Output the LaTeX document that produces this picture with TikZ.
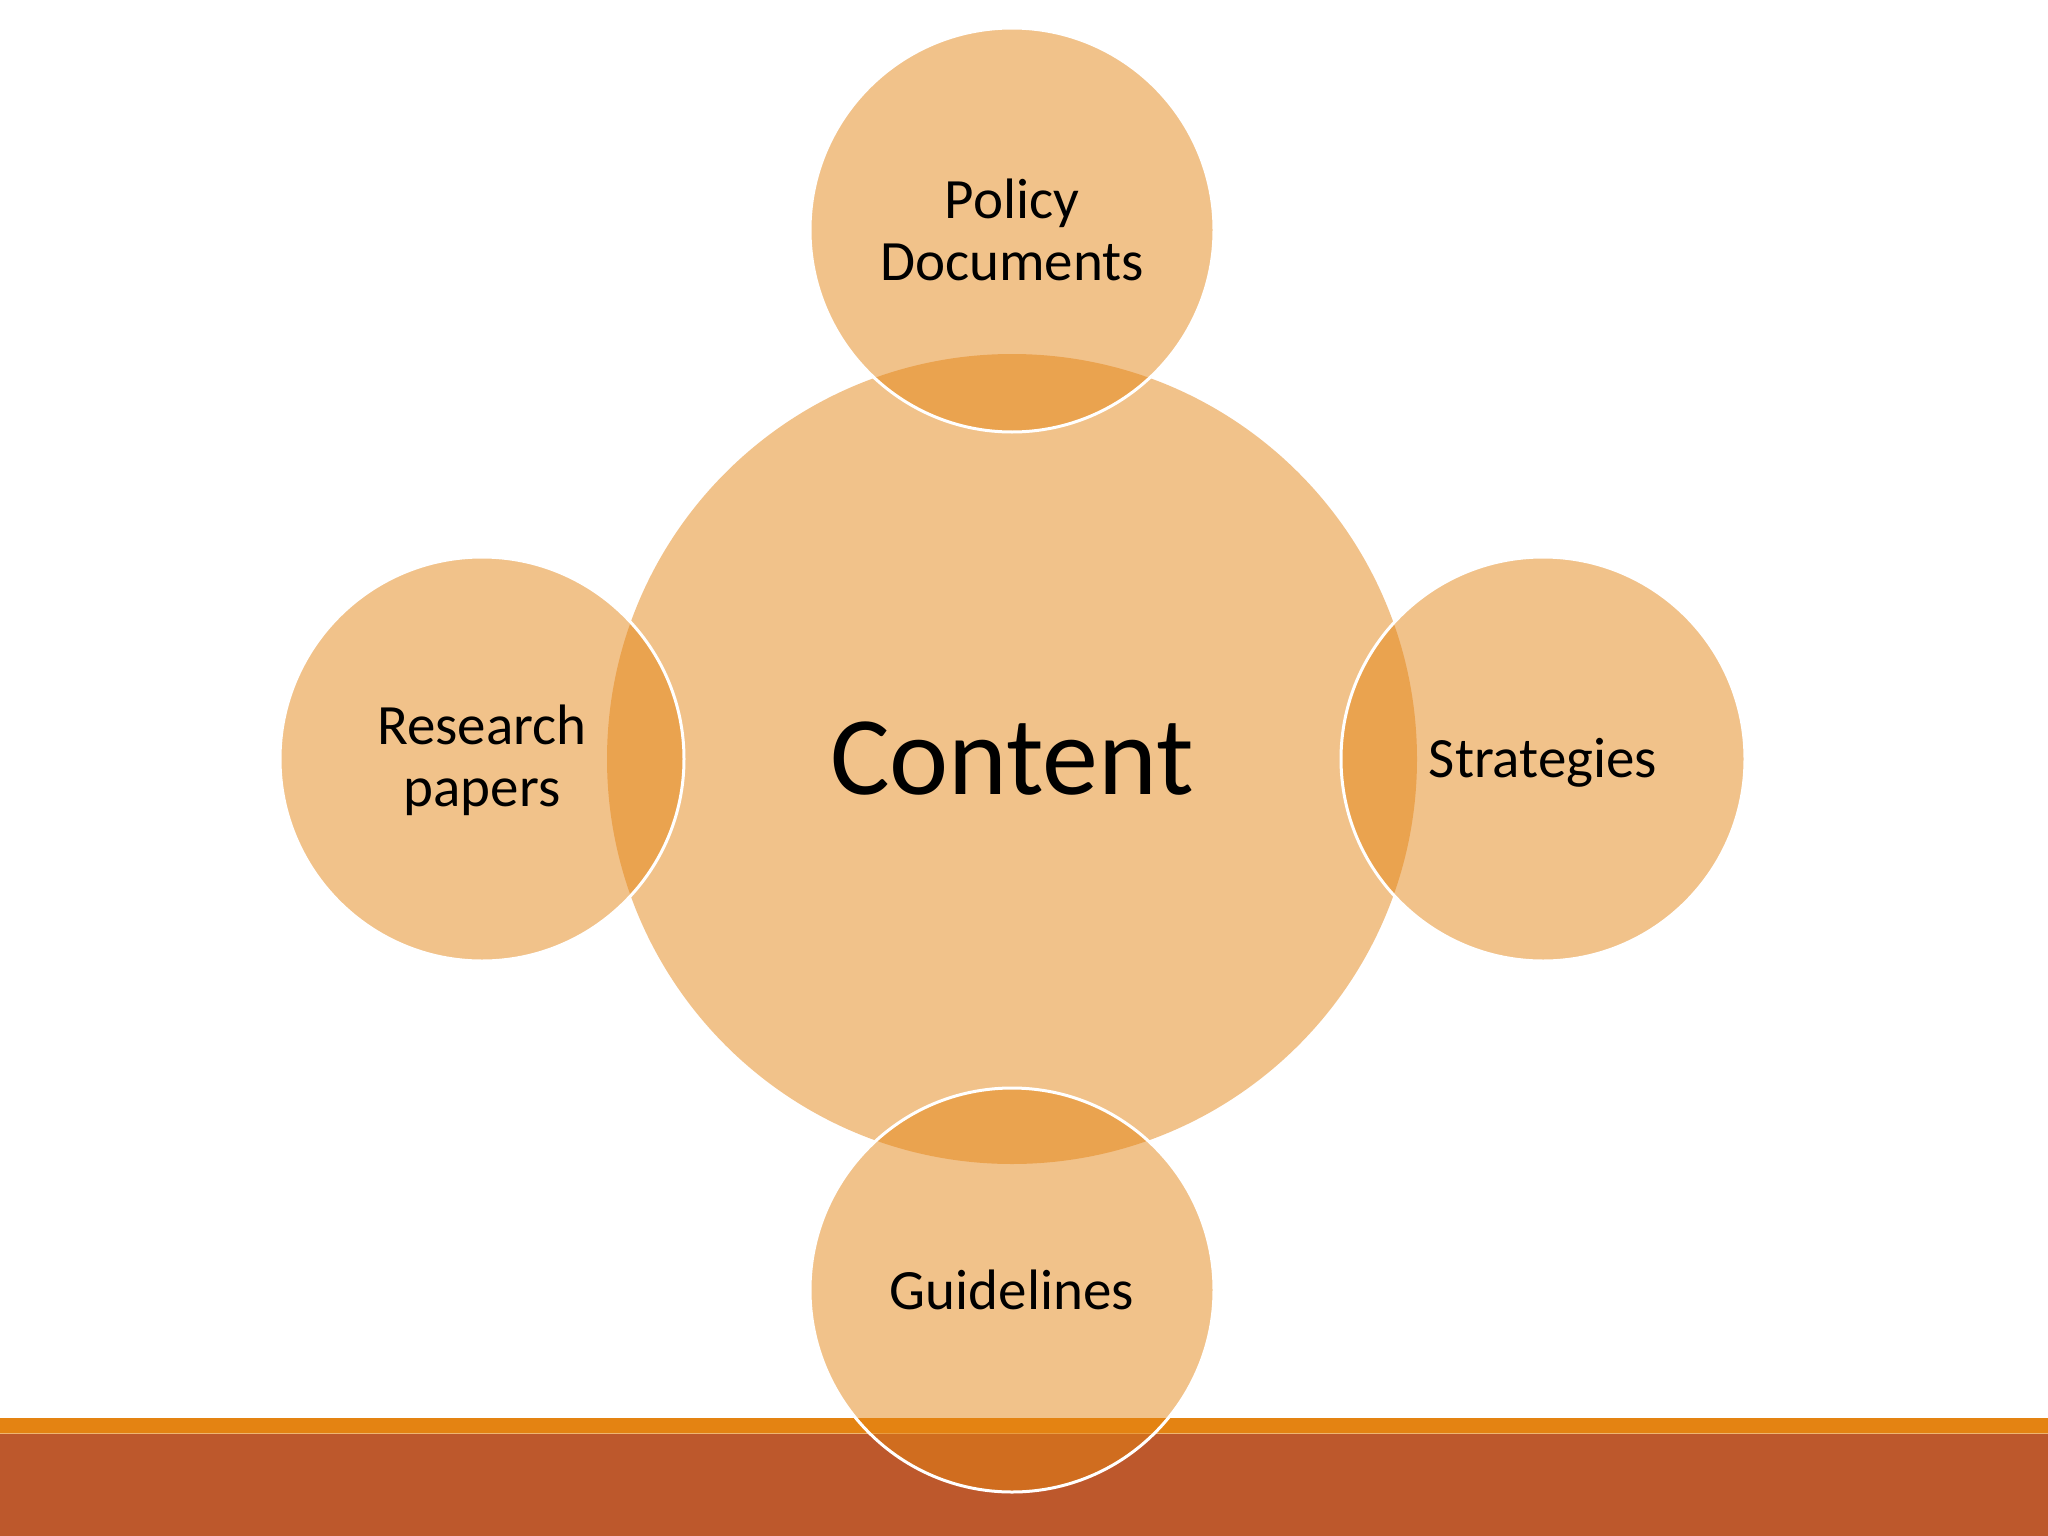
\documentclass[tikz,border=0pt]{standalone}
\usepackage{fontspec}
\setmainfont{Carlito}
\definecolor{accent}{HTML}{E48312}
\definecolor{bandred}{HTML}{BD582C}
\begin{document}
\begin{tikzpicture}[x=1pt,y=-1pt,
  bubble/.style={circle, fill=accent, fill opacity=0.49, text opacity=1,
    inner sep=0pt, align=center, text=black},
  smallbubble/.style={bubble, minimum size=404pt, draw=white, draw opacity=1,
    line width=3pt, font=\fontsize{57}{62}\selectfont},
  bigbubble/.style={bubble, minimum size=810pt, font=\fontsize{112}{120}\selectfont}]
  \useasboundingbox[fill=white] (0,0) rectangle (2048,1536);
  % bottom band
  \fill[bandred] (0,1433) rectangle (2048,1536);
  \fill[accent] (0,1418) rectangle (2048,1433);
  \draw[accent!60!white, line width=1pt] (0,1433) -- (2048,1433);
  % circles
  \node[bigbubble] (content) at (1012,759) {Content};
  \node[smallbubble] (policy) at (1012,230) {Policy\\Documents};
  \node[smallbubble] (research) at (482,759) {\raisebox{-4pt}[\height][\depth]{\begin{tabular}{@{}c@{}}Research\\papers\end{tabular}}};
  \node[smallbubble] (strategies) at (1543,759) {\raisebox{-4pt}[\height][\depth]{Strategies}};
  \node[smallbubble] (guidelines) at (1012,1290) {Guidelines};
\end{tikzpicture}
\end{document}
